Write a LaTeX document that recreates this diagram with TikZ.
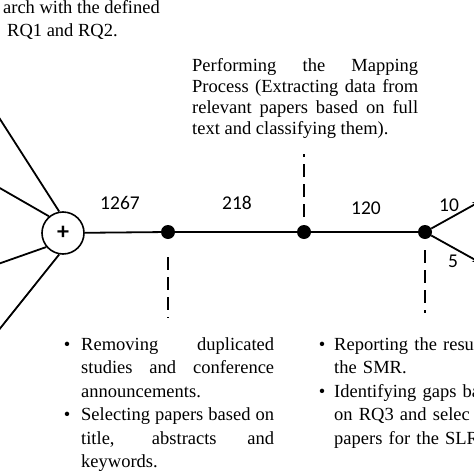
\documentclass[tikz,border=0pt]{standalone}
\usepackage{fontspec}
\setmainfont{Liberation Serif}
\newfontfamily\numfont{Carlito}

\begin{document}
\begin{tikzpicture}[x=1pt, y=-1pt,
		flow/.style = {line width=1.8pt},
		leader/.style = {line width=1.8pt, dash pattern=on 13pt off 7pt},
		junction/.style = {circle, fill, inner sep=0pt, minimum size=14pt},
		merge/.style = {circle, draw, line width=1.6pt, inner sep=0pt, minimum size=42pt, font=\numfont\bfseries\fontsize{24}{24}\selectfont},
		count/.style = {inner sep=0pt, font=\numfont\fontsize{19.5}{19.5}\selectfont},
		note/.style = {inner sep=0pt, font=\fontsize{18.5}{23.5}\selectfont}]
			\def\ymain{232};

			\useasboundingbox (0,0) rectangle (474,474);
			\clip (0,0) rectangle (474,474);

			\begin{scope}
				\node[merge] (plus) at (63,233) {+};
				\node[junction] (d1) at (168,\ymain) {};
				\node[junction] (d2) at (304,\ymain) {};
				\node[junction] (d3) at (425,\ymain) {};
			\end{scope}

			\begin{scope}
				\coordinate (i1) at (-2,116);
				\coordinate (i2) at (-2,187);
				\coordinate (i3) at (-2,264);
				\coordinate (i4) at (-2,331);
				\draw[flow] (i1) -- (plus.100);
				\draw[flow] (i2) -- (plus.130);
				\draw[flow] (i3) -- (plus.220);
				\draw[flow] (i4) -- (plus.260);
			\end{scope}

			\draw[flow] (plus) -- (d1) -- (d2) -- (d3);

			\begin{scope}[flow, -stealth]
				\coordinate (o1) at (479,202);
				\coordinate (o2) at (479,262);
				\draw (d3) -- (o1);
				\draw (d3) -- (o2);
			\end{scope}

			\begin{scope}
				\node[count] (n1) at (120,203) {1267};
				\node[count] (n2) at (237,203) {218};
				\node[count] (n3) at (366,208) {120};
				\node[count] (n4) at (449,205) {10};
				\node[count] (n5) at (453,261) {5};
			\end{scope}

			\begin{scope}[leader]
				\coordinate (t1a) at (168,257);
				\coordinate (t1b) at (168,318);
				\coordinate (t2a) at (304,217);
				\coordinate (t2b) at (304,154);
				\coordinate (t3a) at (425,250);
				\coordinate (t3b) at (425,313);
				\draw (t1a) -- (t1b);
				\draw (t2a) -- (t2b);
				\draw (t3a) -- (t3b);
			\end{scope}

			\node[note, anchor=base east] (search) at (160,13) {arch with the defined};
			\node[note, anchor=base west] (rq) at (7,36) {RQ1 and RQ2.};

			\node[note, anchor=base west, text width=226pt, align=justify, font=\fontsize{18.5}{21.3}\selectfont] (mapping) at (192,71)
				{Performing the Mapping\linebreak Process (Extracting data from\linebreak relevant papers based on full\linebreak text and classifying them).};

			\begin{scope}
				\node[note, anchor=base] (b1) at (67,350) {\textbullet};
				\node[note, anchor=base] (b2) at (67,420.5) {\textbullet};
				\node[note, anchor=base west, text width=193pt, align=justify] (remove) at (81,350)
					{Removing duplicated\linebreak studies and conference\linebreak announcements.};
				\node[note, anchor=base west, text width=193pt, align=justify] (select) at (81,420.5)
					{Selecting papers based on\linebreak title, abstracts and\linebreak keywords.};
			\end{scope}

			\begin{scope}
				\node[note, anchor=base] (b3) at (322,350) {\textbullet};
				\node[note, anchor=base] (b4) at (322,397) {\textbullet};
				\node[note, anchor=base west, text width=150pt, align=left] (report) at (334,350)
					{\makebox[143pt][s]{Reporting the resu}\\the SMR.};
				\node[note, anchor=base west, text width=150pt, align=left] (gaps) at (334,397)
					{Identifying gaps ba\\\makebox[142pt][s]{on RQ3 and selec}\\papers for the SLR};
			\end{scope}
		\end{tikzpicture}
\end{document}
